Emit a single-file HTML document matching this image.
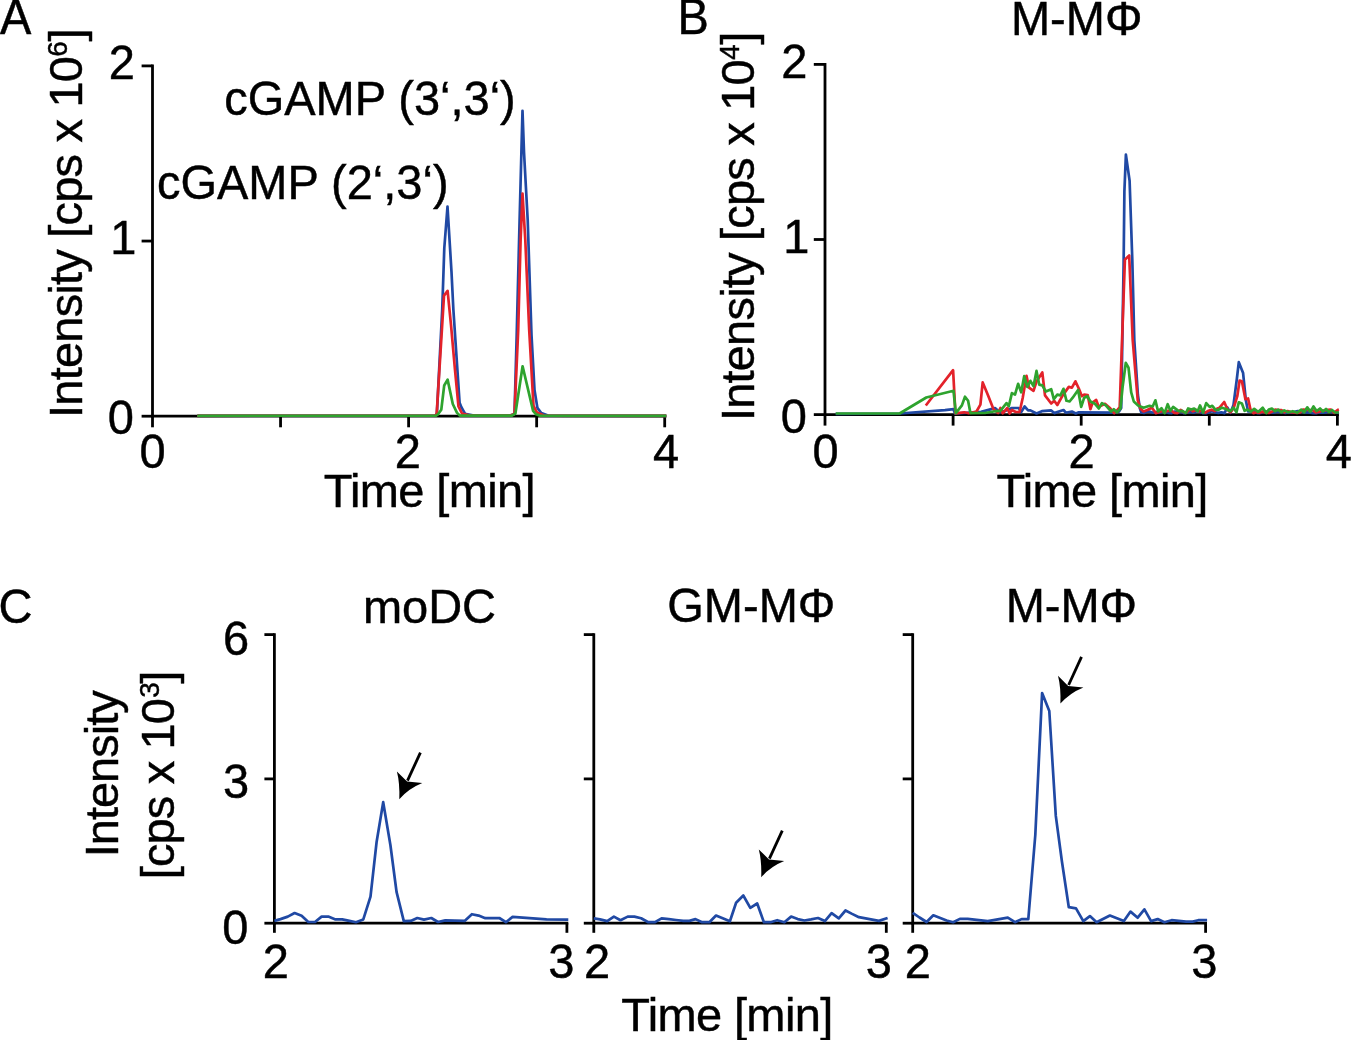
<!DOCTYPE html>
<html><head><meta charset="utf-8"><title>cGAMP chromatograms</title>
<style>
html,body{margin:0;padding:0;background:#fff;}
svg{display:block;}
text{font-family:'Liberation Sans', Arial, Helvetica, sans-serif;fill:#000;stroke:#000;stroke-width:0.45px;}
</style></head>
<body>
<svg width="1351" height="1040" viewBox="0 0 1351 1040">
<rect width="1351" height="1040" fill="#fff"/>
<line x1="152.50" y1="64.50" x2="152.50" y2="417.60" stroke="#000" stroke-width="2.8"/>
<line x1="151.80" y1="416.20" x2="666.30" y2="416.20" stroke="#000" stroke-width="2.8"/>
<line x1="141.60" y1="416.20" x2="152.50" y2="416.20" stroke="#000" stroke-width="2.8"/>
<line x1="141.60" y1="241.05" x2="152.50" y2="241.05" stroke="#000" stroke-width="2.8"/>
<line x1="141.60" y1="65.90" x2="152.50" y2="65.90" stroke="#000" stroke-width="2.8"/>
<line x1="152.50" y1="416.20" x2="152.50" y2="427.30" stroke="#000" stroke-width="2.8"/>
<line x1="280.55" y1="416.20" x2="280.55" y2="427.30" stroke="#000" stroke-width="2.8"/>
<line x1="408.60" y1="416.20" x2="408.60" y2="427.30" stroke="#000" stroke-width="2.8"/>
<line x1="536.65" y1="416.20" x2="536.65" y2="427.30" stroke="#000" stroke-width="2.8"/>
<line x1="664.70" y1="416.20" x2="664.70" y2="427.30" stroke="#000" stroke-width="2.8"/>
<text transform="translate(0.00,33.70) scale(1,1.045)" font-size="47" text-anchor="start" >A</text>
<text transform="translate(135.00,79.20) scale(1,1.026)" font-size="47" text-anchor="end" >2</text>
<text transform="translate(136.50,254.00) scale(1,1.026)" font-size="47" text-anchor="end" >1</text>
<text transform="translate(134.00,433.90) scale(1,1.026)" font-size="47" text-anchor="end" >0</text>
<text transform="translate(152.50,467.80) scale(1,1.026)" font-size="47" text-anchor="middle" >0</text>
<text transform="translate(407.70,467.80) scale(1,1.026)" font-size="47" text-anchor="middle" >2</text>
<text transform="translate(666.00,467.80) scale(1,1.026)" font-size="47" text-anchor="middle" >4</text>
<text x="323.64" y="506.80" font-size="47" text-anchor="start" letter-spacing="-0.63">Time [min]</text>
<text transform="translate(224.20,114.90) scale(1,1.035)" font-size="47" text-anchor="start" >cGAMP (3‘,3‘)</text>
<text transform="translate(157.00,199.00) scale(1,1.035)" font-size="47" text-anchor="start" >cGAMP (2‘,3‘)</text>
<g transform="translate(81.70,417.90) rotate(-90)">
<text x="0" y="0" font-size="47" letter-spacing="-0.8">Intensity [cps x 10</text>
<text x="361.1" y="-15.2" font-size="28">6</text>
<text x="376.3" y="0" font-size="47">]</text>
</g>
<polyline points="197.3,415.8 435.5,415.6 435.5,415.6 436.9,413.6 442.2,310.0 444.3,248.0 447.5,206.5 451.5,272.0 453.4,310.0 459.6,402.8 461.5,407.4 465.0,413.7 474.0,415.6 510.0,415.6 510.0,415.6 514.5,414.0 516.7,335.0 519.6,220.0 521.4,152.0 522.5,110.9 524.0,152.0 527.7,220.0 531.5,335.0 534.5,390.0 537.4,407.9 541.3,413.0 548.0,415.6 666.3,415.8" fill="none" stroke="#2049a4" stroke-width="2.7" stroke-linejoin="round"/>
<polyline points="197.3,415.8 435.5,415.6 435.5,415.6 436.7,413.5 442.5,320.0 444.0,295.6 447.6,290.9 451.0,324.9 455.0,370.0 458.5,406.5 462.0,413.5 470.0,415.6 510.0,415.6 510.0,415.6 514.5,414.0 518.2,330.0 520.6,240.0 522.5,193.7 525.3,240.0 529.2,330.0 533.5,406.0 537.0,412.6 544.0,415.6 666.3,415.8" fill="none" stroke="#e3222a" stroke-width="2.7" stroke-linejoin="round"/>
<polyline points="197.3,415.8 436.0,415.6 436.0,415.6 437.8,414.5 441.3,409.7 444.2,385.5 447.6,379.6 452.8,404.0 456.9,412.6 459.8,415.6 512.0,415.6 512.0,415.6 515.4,413.5 522.6,366.3 533.1,410.9 536.1,414.3 540.0,415.6 666.3,415.8" fill="none" stroke="#2ea32e" stroke-width="2.7" stroke-linejoin="round"/>
<line x1="825.00" y1="63.00" x2="825.00" y2="416.00" stroke="#000" stroke-width="2.8"/>
<line x1="824.30" y1="414.60" x2="1338.90" y2="414.60" stroke="#000" stroke-width="2.8"/>
<line x1="813.80" y1="414.60" x2="825.00" y2="414.60" stroke="#000" stroke-width="2.8"/>
<line x1="813.80" y1="239.50" x2="825.00" y2="239.50" stroke="#000" stroke-width="2.8"/>
<line x1="813.80" y1="64.40" x2="825.00" y2="64.40" stroke="#000" stroke-width="2.8"/>
<line x1="825.00" y1="414.60" x2="825.00" y2="425.60" stroke="#000" stroke-width="2.8"/>
<line x1="953.10" y1="414.60" x2="953.10" y2="425.60" stroke="#000" stroke-width="2.8"/>
<line x1="1081.20" y1="414.60" x2="1081.20" y2="425.60" stroke="#000" stroke-width="2.8"/>
<line x1="1209.30" y1="414.60" x2="1209.30" y2="425.60" stroke="#000" stroke-width="2.8"/>
<line x1="1337.40" y1="414.60" x2="1337.40" y2="425.60" stroke="#000" stroke-width="2.8"/>
<text transform="translate(677.60,33.80) scale(1,1.045)" font-size="47" text-anchor="start" >B</text>
<text transform="translate(807.30,78.30) scale(1,1.026)" font-size="47" text-anchor="end" >2</text>
<text transform="translate(809.30,253.00) scale(1,1.026)" font-size="47" text-anchor="end" >1</text>
<text transform="translate(806.80,432.80) scale(1,1.026)" font-size="47" text-anchor="end" >0</text>
<text transform="translate(825.50,468.00) scale(1,1.026)" font-size="47" text-anchor="middle" >0</text>
<text transform="translate(1081.50,468.00) scale(1,1.026)" font-size="47" text-anchor="middle" >2</text>
<text transform="translate(1338.90,467.80) scale(1,1.026)" font-size="47" text-anchor="middle" >4</text>
<text x="996.44" y="507.10" font-size="47" text-anchor="start" letter-spacing="-0.63">Time [min]</text>
<text transform="translate(1010.95,35.20) scale(1,1.04)" font-size="47" text-anchor="start" >M-MΦ</text>
<g transform="translate(754.00,421.10) rotate(-90)">
<text x="0" y="0" font-size="47" letter-spacing="-0.8">Intensity [cps x 10</text>
<text x="361.1" y="-15.2" font-size="28">4</text>
<text x="376.3" y="0" font-size="47">]</text>
</g>
<polyline points="835.7,413.8 899.6,413.5 945.0,410.2 953.5,409.2 955.0,413.5 981.2,411.9 995.0,408.1 999.6,412.0 1005.0,411.0 1011.9,408.0 1018.8,408.0 1021.2,412.0 1024.6,406.5 1028.1,410.4 1030.4,410.4 1036.5,413.5 1041.9,411.2 1051.2,410.4 1054.2,413.1 1063.5,410.0 1065.8,412.7 1071.9,411.5 1075.8,413.5 1078.8,412.3 1113.5,412.7 1119.0,411.5 1121.2,408.0 1123.6,265.0 1124.4,191.1 1125.9,154.6 1129.6,180.7 1132.3,260.0 1134.3,340.0 1137.9,395.0 1139.8,408.0 1141.3,412.5 1143.9,412.9 1147.0,411.5 1150.1,411.7 1153.2,412.7 1156.3,412.2 1159.4,412.3 1162.5,411.9 1165.6,411.6 1168.7,413.0 1171.8,413.1 1174.9,411.5 1178.0,412.3 1181.1,411.7 1184.2,413.2 1187.3,412.3 1190.4,411.8 1193.5,412.7 1196.6,411.3 1199.7,411.4 1202.8,413.1 1205.9,413.1 1209.0,412.1 1212.1,411.3 1215.2,412.4 1218.3,412.8 1221.4,412.4 1224.5,413.1 1227.3,407.4 1230.5,412.8 1233.5,405.0 1236.9,378.5 1238.8,362.2 1243.1,373.1 1245.8,400.0 1248.1,411.5 1251.2,411.3 1254.3,411.3 1257.4,413.1 1260.5,413.0 1263.6,411.5 1266.7,411.7 1269.8,411.9 1272.9,412.6 1276.0,412.0 1279.1,412.0 1282.2,412.0 1285.3,412.9 1288.4,412.3 1291.5,412.4 1294.6,411.8 1297.7,411.2 1300.8,411.3 1303.9,412.1 1307.0,412.3 1310.1,412.7 1313.2,413.1 1316.3,413.1 1319.4,412.3 1322.5,412.6 1325.6,412.4 1328.7,411.4 1331.8,412.1 1334.9,412.1 1338.0,412.7 1338.9,412.5" fill="none" stroke="#2049a4" stroke-width="2.7" stroke-linejoin="round"/>
<polyline points="925.8,405.5 953.1,370.2 955.4,413.3 964.2,412.3 968.8,413.3 976.5,411.5 980.4,404.6 982.7,382.4 988.1,395.4 993.5,409.2 998.1,413.0 1000.4,408.0 1002.7,413.3 1007.3,408.0 1009.6,413.5 1011.9,410.0 1015.8,412.0 1019.6,412.0 1022.7,398.0 1026.5,375.8 1029.0,387.7 1033.5,390.8 1036.5,381.5 1042.3,372.4 1045.0,395.4 1051.2,403.5 1054.2,400.8 1057.3,405.0 1062.7,395.4 1068.8,386.9 1071.9,387.7 1075.4,381.3 1078.8,388.5 1081.9,396.2 1084.2,394.6 1087.7,395.0 1090.4,409.2 1092.7,402.3 1096.2,400.0 1098.8,406.9 1105.0,403.8 1109.6,407.7 1114.2,413.1 1118.1,409.2 1119.7,407.0 1124.9,259.8 1129.2,255.4 1132.7,340.0 1137.7,400.0 1140.4,408.5 1143.5,411.5 1147.3,410.0 1151.9,407.7 1155.8,413.1 1158.9,412.2 1162.0,411.0 1165.1,411.7 1168.2,410.8 1171.3,410.7 1174.4,412.9 1177.5,413.1 1180.6,409.9 1183.7,412.2 1186.8,412.3 1189.9,409.2 1193.0,411.3 1196.1,409.9 1199.2,411.3 1202.3,410.6 1205.4,412.6 1208.5,410.7 1211.6,409.7 1214.7,411.1 1217.3,408.5 1219.6,407.7 1224.2,402.0 1227.7,410.0 1230.4,412.3 1233.5,408.5 1237.3,396.2 1239.6,380.5 1241.9,381.3 1245.4,399.2 1248.1,398.5 1250.4,409.2 1253.5,413.1 1256.6,412.3 1259.7,412.8 1262.8,411.6 1265.9,412.6 1269.0,412.9 1272.1,411.6 1275.2,409.5 1278.3,410.0 1281.4,410.1 1284.5,412.3 1287.6,411.1 1290.7,412.1 1293.8,412.5 1296.9,412.8 1300.0,412.3 1303.1,409.5 1306.2,409.9 1309.3,410.0 1312.4,410.0 1315.5,412.4 1318.6,412.0 1321.7,410.7 1324.8,410.3 1327.9,409.8 1331.0,409.7 1334.1,412.9 1337.9,409.8 1338.9,409.5" fill="none" stroke="#e3222a" stroke-width="2.7" stroke-linejoin="round"/>
<polyline points="835.7,413.5 899.6,413.5 926.3,397.5 953.5,390.8 955.8,413.1 961.9,405.4 965.0,396.7 968.1,400.8 970.4,413.1 985.0,413.0 993.5,411.5 996.5,411.2 1000.4,410.8 1006.5,403.1 1008.8,406.2 1011.9,393.1 1015.0,394.6 1018.1,383.8 1021.2,392.3 1024.2,376.2 1027.3,386.9 1030.4,380.8 1033.5,386.2 1036.5,370.9 1039.2,384.6 1042.3,385.4 1045.8,391.5 1051.2,389.2 1053.8,399.2 1057.3,394.6 1060.4,395.4 1063.5,388.8 1066.5,400.8 1069.6,401.5 1072.7,397.7 1078.1,390.0 1081.2,406.9 1084.2,397.7 1087.3,396.2 1090.4,401.5 1095.0,403.8 1098.8,408.5 1101.9,403.1 1105.8,405.4 1111.2,411.5 1113.8,409.2 1116.9,412.3 1120.4,408.5 1122.7,386.2 1125.8,362.8 1128.5,367.7 1131.2,392.3 1133.8,401.5 1138.1,405.4 1143.5,407.7 1149.6,405.8 1152.7,406.5 1155.4,400.3 1158.1,411.5 1161.5,408.1 1164.6,413.1 1167.7,404.2 1170.4,410.8 1173.1,406.9 1178.8,411.2 1182.3,410.8 1185.8,413.1 1188.1,408.5 1191.2,409.6 1194.2,408.5 1197.7,411.2 1200.0,405.4 1203.1,412.7 1206.2,403.1 1209.6,406.9 1212.3,405.8 1215.4,409.6 1218.1,410.0 1221.9,407.7 1226.0,409.0 1230.4,411.2 1233.5,407.7 1236.5,412.3 1238.8,402.3 1241.9,403.5 1244.6,410.8 1247.3,409.6 1251.2,411.5 1254.2,408.8 1258.1,411.9 1262.7,407.7 1266.2,413.1 1268.8,409.6 1271.9,408.5 1275.0,411.2 1278.1,409.6 1281.2,412.3 1284.2,410.4 1288.1,412.3 1292.7,411.2 1297.3,412.7 1301.2,409.6 1304.2,412.3 1307.3,407.3 1310.4,411.9 1313.5,406.5 1316.6,411.0 1320.0,408.5 1323.0,411.5 1326.0,409.0 1329.0,412.0 1332.0,410.0 1335.0,412.5 1338.9,412.5" fill="none" stroke="#2ea32e" stroke-width="2.7" stroke-linejoin="round"/>
<line x1="274.40" y1="633.20" x2="274.40" y2="924.60" stroke="#000" stroke-width="2.8"/>
<line x1="273.70" y1="923.20" x2="568.30" y2="923.20" stroke="#000" stroke-width="2.8"/>
<line x1="264.40" y1="923.20" x2="274.40" y2="923.20" stroke="#000" stroke-width="2.8"/>
<line x1="264.40" y1="778.90" x2="274.40" y2="778.90" stroke="#000" stroke-width="2.8"/>
<line x1="264.40" y1="634.60" x2="274.40" y2="634.60" stroke="#000" stroke-width="2.8"/>
<line x1="274.40" y1="923.20" x2="274.40" y2="932.80" stroke="#000" stroke-width="2.8"/>
<line x1="566.90" y1="923.20" x2="566.90" y2="932.80" stroke="#000" stroke-width="2.8"/>
<line x1="593.80" y1="633.20" x2="593.80" y2="924.60" stroke="#000" stroke-width="2.8"/>
<line x1="593.10" y1="923.20" x2="887.70" y2="923.20" stroke="#000" stroke-width="2.8"/>
<line x1="583.80" y1="923.20" x2="593.80" y2="923.20" stroke="#000" stroke-width="2.8"/>
<line x1="583.80" y1="778.90" x2="593.80" y2="778.90" stroke="#000" stroke-width="2.8"/>
<line x1="583.80" y1="634.60" x2="593.80" y2="634.60" stroke="#000" stroke-width="2.8"/>
<line x1="593.80" y1="923.20" x2="593.80" y2="932.80" stroke="#000" stroke-width="2.8"/>
<line x1="886.30" y1="923.20" x2="886.30" y2="932.80" stroke="#000" stroke-width="2.8"/>
<line x1="912.70" y1="633.20" x2="912.70" y2="924.60" stroke="#000" stroke-width="2.8"/>
<line x1="912.00" y1="923.20" x2="1207.00" y2="923.20" stroke="#000" stroke-width="2.8"/>
<line x1="902.70" y1="923.20" x2="912.70" y2="923.20" stroke="#000" stroke-width="2.8"/>
<line x1="902.70" y1="778.90" x2="912.70" y2="778.90" stroke="#000" stroke-width="2.8"/>
<line x1="902.70" y1="634.60" x2="912.70" y2="634.60" stroke="#000" stroke-width="2.8"/>
<line x1="912.70" y1="923.20" x2="912.70" y2="932.80" stroke="#000" stroke-width="2.8"/>
<line x1="1205.60" y1="923.20" x2="1205.60" y2="932.80" stroke="#000" stroke-width="2.8"/>
<text transform="translate(-1.40,623.00) scale(1,1.04)" font-size="47" text-anchor="start" >C</text>
<text transform="translate(249.10,655.00) scale(1,1.026)" font-size="47" text-anchor="end" >6</text>
<text transform="translate(249.20,798.00) scale(1,1.026)" font-size="47" text-anchor="end" >3</text>
<text transform="translate(248.30,944.30) scale(1,1.026)" font-size="47" text-anchor="end" >0</text>
<text transform="translate(275.70,978.00) scale(1,1.026)" font-size="47" text-anchor="middle" >2</text>
<text transform="translate(561.20,978.00) scale(1,1.026)" font-size="47" text-anchor="middle" >3</text>
<text transform="translate(597.10,978.00) scale(1,1.026)" font-size="47" text-anchor="middle" >2</text>
<text transform="translate(878.80,978.00) scale(1,1.026)" font-size="47" text-anchor="middle" >3</text>
<text transform="translate(917.70,978.00) scale(1,1.026)" font-size="47" text-anchor="middle" >2</text>
<text transform="translate(1204.20,978.00) scale(1,1.026)" font-size="47" text-anchor="middle" >3</text>
<text x="362.90" y="622.90" font-size="47" text-anchor="start" >mo</text>
<text transform="translate(428.19,622.90) scale(1,1.04)" font-size="47" text-anchor="start" >DC</text>
<text transform="translate(667.30,622.00) scale(1,1.04)" font-size="47" text-anchor="start" >GM-MΦ</text>
<text transform="translate(1005.65,621.70) scale(1,1.04)" font-size="47" text-anchor="start" >M-MΦ</text>
<text x="621.34" y="1030.60" font-size="47" text-anchor="start" letter-spacing="-0.63">Time [min]</text>
<g transform="translate(118.4,857.3) rotate(-90)">
<text x="0" y="0" font-size="47" letter-spacing="-1.0">Intensity</text>
</g>
<g transform="translate(174.4,879.3) rotate(-90)">
<text x="0" y="0" font-size="47" letter-spacing="-0.85">[cps x 10</text>
<text x="181.5" y="-15.2" font-size="28">3</text>
<text x="195.6" y="0" font-size="47">]</text>
</g>
<polyline points="274.4,920.9 280.5,919.1 287.8,916.6 294.6,913.0 301.6,915.7 308.3,922.0 315.0,922.0 321.6,916.6 328.3,916.6 335.5,919.4 342.2,919.4 349.4,920.9 356.0,922.2 363.3,919.4 370.5,896.7 376.6,842.0 383.2,802.2 390.4,845.0 396.6,892.2 403.8,921.1 410.7,920.9 417.3,918.0 424.0,919.6 431.3,918.0 438.0,922.0 445.3,920.4 464.6,920.9 471.9,914.2 478.6,915.6 485.3,918.2 499.3,918.0 505.9,922.2 512.6,916.9 546.5,919.3 568.3,919.6" fill="none" stroke="#2049a4" stroke-width="2.7" stroke-linejoin="round"/>
<polyline points="593.8,918.3 600.0,919.4 607.2,921.1 613.9,916.6 620.5,920.2 627.7,916.6 634.4,916.6 641.1,918.3 648.3,922.2 655.0,922.2 661.6,918.3 668.8,919.1 676.0,920.0 683.3,920.9 689.4,920.9 695.5,919.1 702.1,922.2 709.4,922.2 716.0,915.5 722.7,918.3 729.9,921.3 736.1,902.8 743.3,895.5 750.3,907.8 757.2,903.5 763.9,922.2 770.5,922.2 777.2,920.2 784.4,922.2 791.1,916.6 797.7,919.1 804.4,920.5 811.0,919.4 818.0,918.0 824.9,921.1 831.6,913.1 838.8,918.3 845.5,910.5 852.1,913.9 858.9,917.2 878.9,920.9 887.6,918.0" fill="none" stroke="#2049a4" stroke-width="2.7" stroke-linejoin="round"/>
<polyline points="912.7,912.8 919.5,917.5 926.6,922.0 933.3,915.3 946.6,920.5 953.2,922.2 959.9,918.9 967.7,918.9 987.8,921.1 1007.8,917.7 1015.0,922.2 1021.6,919.1 1028.3,919.1 1035.3,835.0 1042.1,693.1 1049.3,711.0 1055.8,815.9 1062.0,862.0 1068.8,907.2 1076.0,908.3 1083.3,921.1 1089.9,916.1 1096.6,922.2 1109.9,915.5 1123.9,921.1 1130.5,911.6 1137.7,917.7 1144.4,909.4 1151.1,921.1 1157.7,919.1 1164.4,922.2 1171.6,920.2 1186.0,921.6 1192.7,921.6 1198.3,920.2 1207.1,920.2" fill="none" stroke="#2049a4" stroke-width="2.7" stroke-linejoin="round"/>
<g transform="translate(0.00,0.00)">
<line x1="420.4" y1="752.6" x2="407.5" y2="780.7" stroke="#000" stroke-width="2.8"/>
<path d="M399.3,799.3 Q399.9,783 396.9,771.4 L407.1,781.6 L422.3,783.1 Q408.6,788.6 399.3,799.3 Z" fill="#000"/>
</g>
<g transform="translate(361.90,78.00)">
<line x1="420.4" y1="752.6" x2="407.5" y2="780.7" stroke="#000" stroke-width="2.8"/>
<path d="M399.3,799.3 Q399.9,783 396.9,771.4 L407.1,781.6 L422.3,783.1 Q408.6,788.6 399.3,799.3 Z" fill="#000"/>
</g>
<g transform="translate(661.10,-95.70)">
<line x1="420.4" y1="752.6" x2="407.5" y2="780.7" stroke="#000" stroke-width="2.8"/>
<path d="M399.3,799.3 Q399.9,783 396.9,771.4 L407.1,781.6 L422.3,783.1 Q408.6,788.6 399.3,799.3 Z" fill="#000"/>
</g>
</svg>
</body></html>
